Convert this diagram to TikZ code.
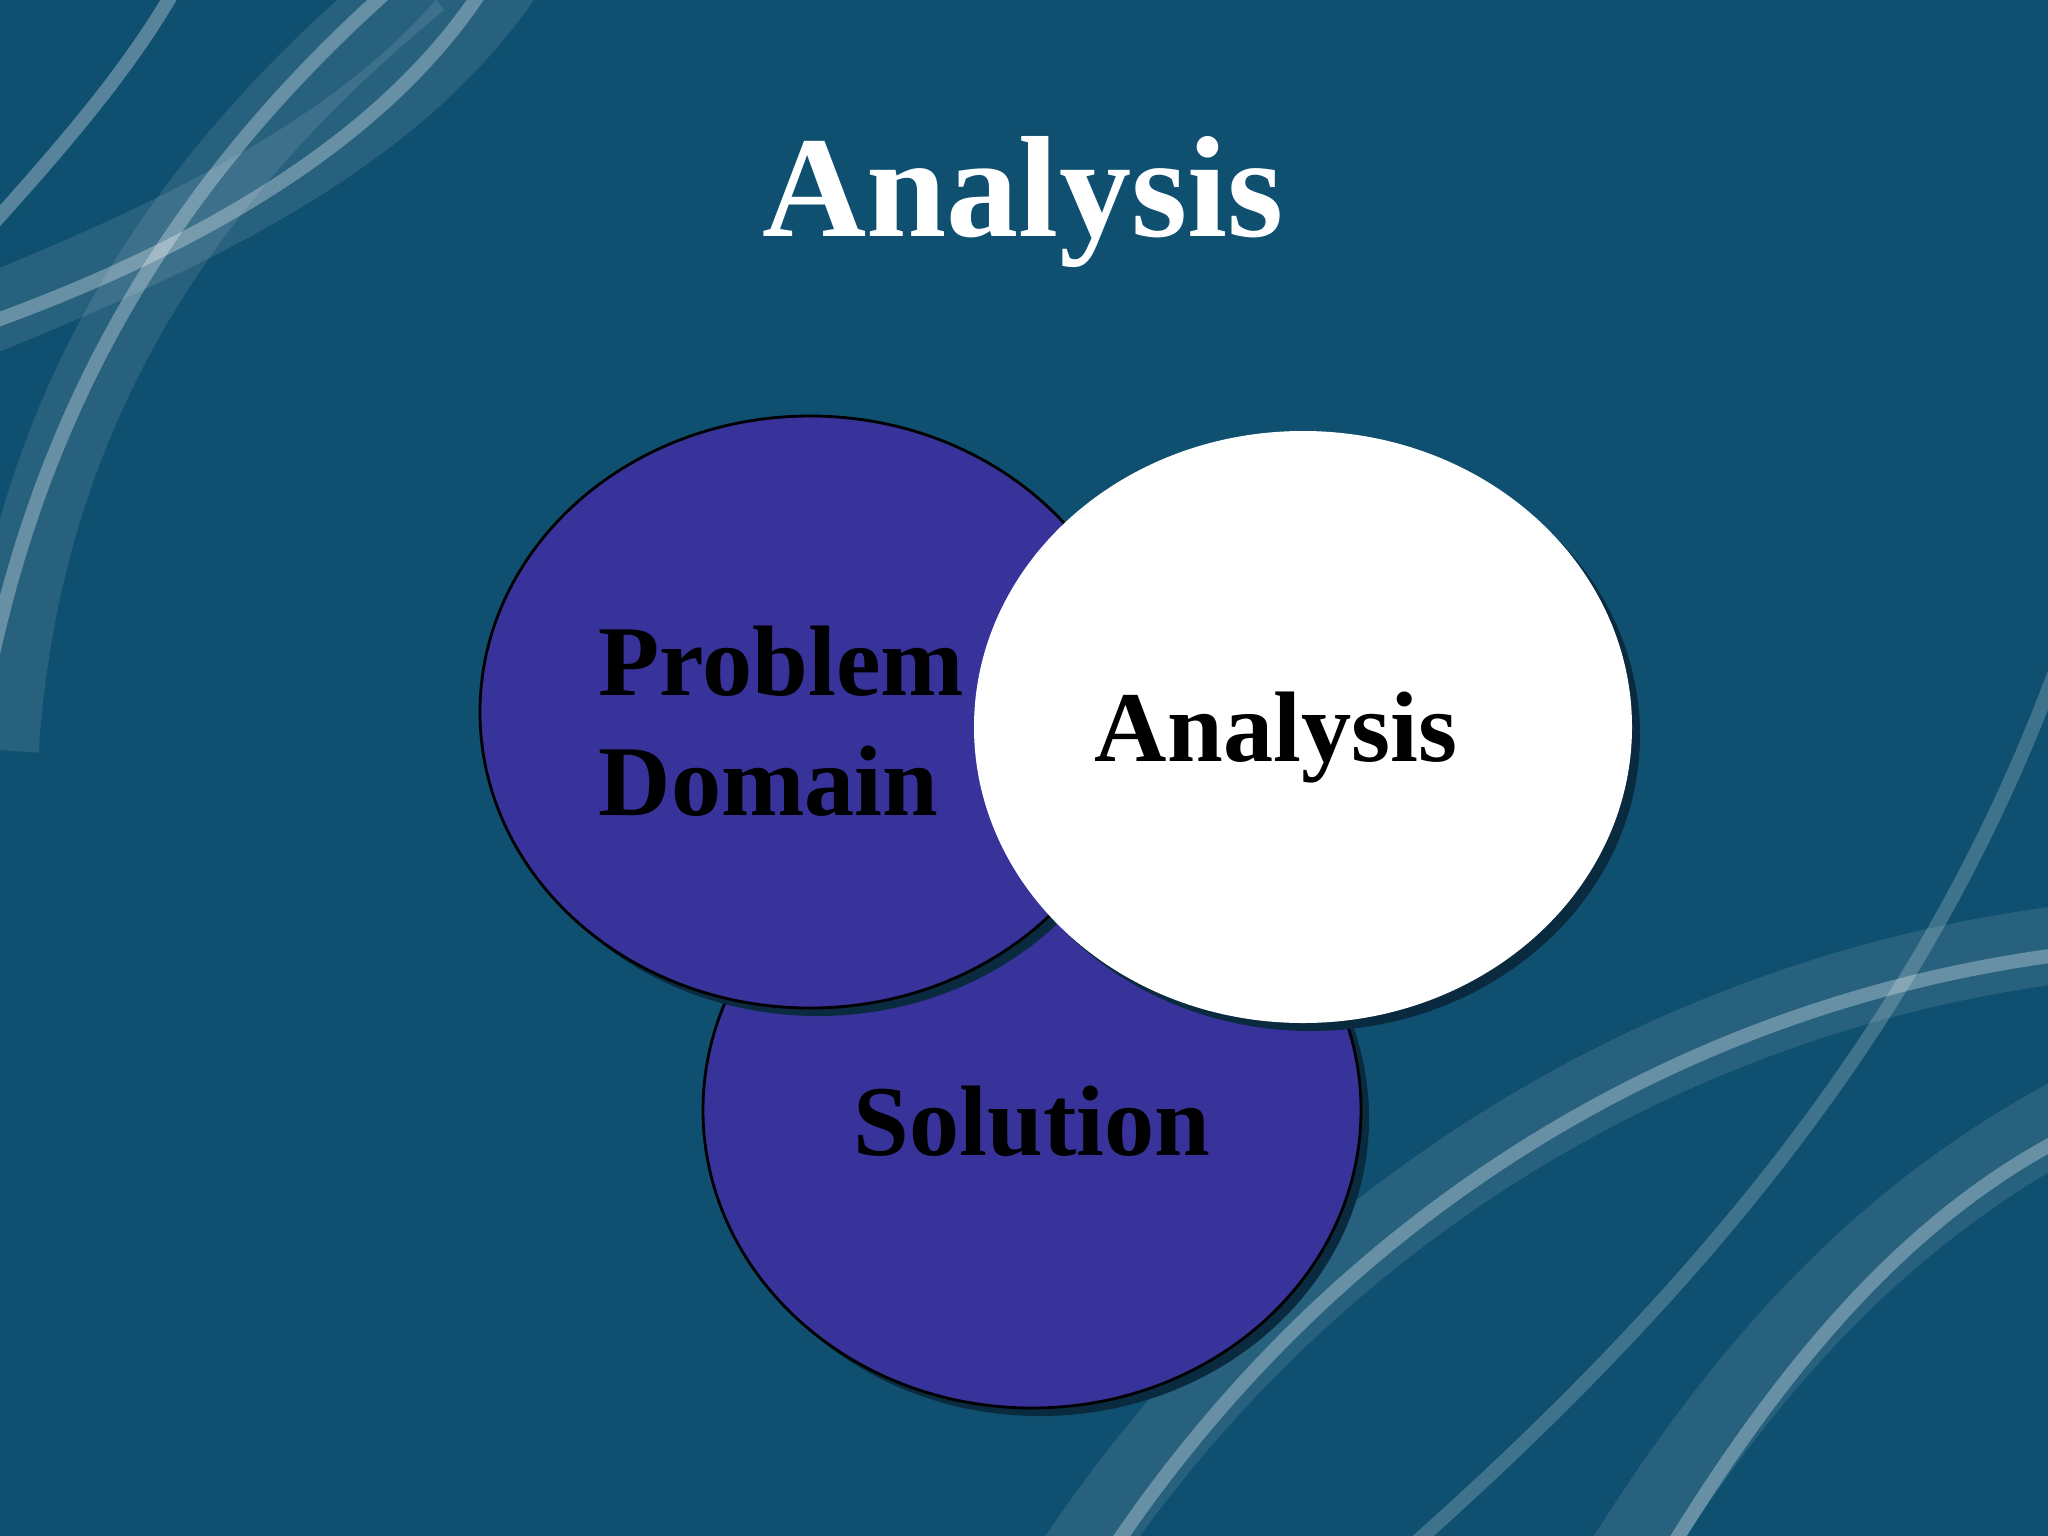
\documentclass[tikz,border=0pt]{standalone}
\usepackage{fontspec}
\setmainfont{Liberation Serif}
\definecolor{bg}{HTML}{0F5070}
\definecolor{purp}{HTML}{37339A}
\definecolor{shad}{HTML}{0A2A40}
\begin{document}
\begin{tikzpicture}[x=0.01cm,y=-0.01cm,
  swirl/.style={white,opacity=0.3,line width=4pt},
  swirlb/.style={white,opacity=0.1,line width=22pt},
  blob/.style={draw=black,line width=0.8pt},
  lab/.style={font=\fontsize{28.5}{34}\selectfont\bfseries,text=black,align=left,inner sep=0pt}]
\fill[bg] (0,0) rectangle (2048,1536);
\useasboundingbox (0,0) rectangle (2048,1536);
\begin{scope}
\clip (0,0) rectangle (2048,1536);
% top-left swirls
\draw[swirlb] (-100,350) .. controls (150,250) and (400,150) .. (520,-50);
\draw[swirl] (-60,340) .. controls (180,260) and (400,140) .. (500,-40);
\draw[swirlb] (0,750) .. controls (20,450) and (150,200) .. (420,-20);
\draw[swirl] (-20,720) .. controls (30,430) and (160,190) .. (400,-20);
\draw[swirl] (-40,260) .. controls (60,150) and (130,70) .. (180,-20);
% bottom-right swirls
\draw[swirlb] (1050,1600) .. controls (1300,1200) and (1700,980) .. (2100,940);
\draw[swirl] (1080,1600) .. controls (1320,1210) and (1700,990) .. (2100,950);
\draw[swirlb] (1600,1600) .. controls (1750,1350) and (1900,1200) .. (2100,1100);
\draw[swirl] (1640,1600) .. controls (1780,1360) and (1920,1200) .. (2100,1120);
\draw[swirl,opacity=0.2] (1350,1600) .. controls (1700,1300) and (1950,1000) .. (2080,600);
\end{scope}
\node[font=\fontsize{41}{48}\selectfont\bfseries,text=white] (title) at (1023,202) {Analysis};
% shadows
\fill[shad] (1040,1118) ellipse [x radius=329,y radius=298];
\fill[purp] (1032,1110) ellipse [x radius=329,y radius=298];
\draw[blob] (1032,1110) ellipse [x radius=329,y radius=298];
\fill[shad] (818,720) ellipse [x radius=330,y radius=296];
\fill[purp] (810,712) ellipse [x radius=330,y radius=296];
\draw[blob] (810,712) ellipse [x radius=330,y radius=296];
\fill[shad] (1311,735) ellipse [x radius=329,y radius=296];
\fill[white] (1303,727) ellipse [x radius=329,y radius=296];
\node[lab,anchor=west] (pd) at (598,721) {Problem\\Domain};
\node[lab] (an) at (1276,738) {Analysis};
\node[lab] (so) at (1032,1121) {Solution};
\end{tikzpicture}
\end{document}
